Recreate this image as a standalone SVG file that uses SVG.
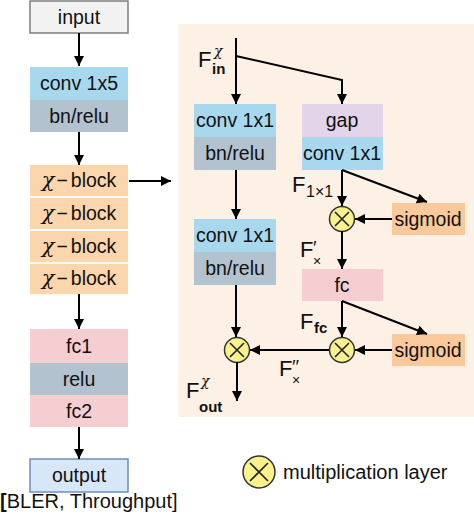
<svg xmlns="http://www.w3.org/2000/svg" width="474" height="526" viewBox="0 0 474 526">
<defs>
<marker id="ah" viewBox="0 0 10 10" refX="10" refY="5" markerWidth="10" markerHeight="11" markerUnits="userSpaceOnUse" orient="auto">
<path d="M0,0 L10,5 L0,10 z" fill="#000"/>
</marker>
<style>
text{font-family:"Liberation Sans",Arial,sans-serif;fill:#111}
.t{font-size:19.5px;text-anchor:middle}
.conv{fill:#a7d8ee}
.bn{fill:#b2c2ce}
.xb{fill:#fbd5ac}
.fc{fill:#f6cdd1}
.gap{fill:#e3d4ea}
.sig{fill:#f9c89b}
.mul{fill:#f9f28c;stroke:#333;stroke-width:1.5}
.mx{stroke:#222;stroke-width:1.6}
.ln{stroke:#000;stroke-width:2;fill:none}
.ar{stroke:#000;stroke-width:2;fill:none;marker-end:url(#ah)}
.F{font-size:22px}
.sub{font-size:15px;font-weight:bold}
.chi{font-family:"DejaVu Serif",serif;font-style:italic;font-size:14px}
.xc{font-family:"DejaVu Serif",serif;font-style:italic;font-size:21px}
.pr{font-size:19px}
</style>
</defs>
<rect x="178" y="24" width="296" height="393" fill="#fdf0e5"/>

<g id="input"><rect x="30" y="1" width="98" height="32" fill="#f2f2f2" stroke="#7f7f7f" stroke-width="1.5"/><text class="t" x="79" y="24">input</text></g>
<g id="conv1x5"><rect class="conv" x="30" y="67" width="98" height="33"/><text class="t" x="79" y="90">conv 1x5</text></g>
<g id="bnrelu0"><rect class="bn" x="30" y="100" width="98" height="32"/><text class="t" x="79" y="123">bn/relu</text></g>
<g id="xblock1"><rect class="xb" x="30" y="165" width="98" height="31"/><text class="t" x="79" y="187"><tspan class="xc">χ</tspan><tspan dx="2">−</tspan><tspan dx="3">block</tspan></text></g>
<g id="xblock2"><rect class="xb" x="30" y="198" width="98" height="31"/><text class="t" x="79" y="220"><tspan class="xc">χ</tspan><tspan dx="2">−</tspan><tspan dx="3">block</tspan></text></g>
<g id="xblock3"><rect class="xb" x="30" y="231" width="98" height="31"/><text class="t" x="79" y="253"><tspan class="xc">χ</tspan><tspan dx="2">−</tspan><tspan dx="3">block</tspan></text></g>
<g id="xblock4"><rect class="xb" x="30" y="264" width="98" height="30"/><text class="t" x="79" y="285"><tspan class="xc">χ</tspan><tspan dx="2">−</tspan><tspan dx="3">block</tspan></text></g>
<g id="fc1"><rect class="fc" x="30" y="329" width="98" height="34"/><text class="t" x="79" y="353">fc1</text></g>
<g id="relu"><rect class="bn" x="30" y="363" width="98" height="32"/><text class="t" x="79" y="386">relu</text></g>
<g id="fc2"><rect class="fc" x="30" y="395" width="98" height="32"/><text class="t" x="79" y="418">fc2</text></g>
<g id="output"><rect x="30" y="459" width="98" height="33" fill="#d8e7f7" stroke="#6d8fbf" stroke-width="1.5"/><text class="t" x="79" y="482">output</text></g>
<text x="0" y="508" font-size="20px"><tspan font-weight="bold">[</tspan>BLER, Throughput]</text>

<g id="convA"><rect class="conv" x="194" y="104" width="82" height="33"/><text class="t" x="235" y="127">conv 1x1</text></g>
<g id="bnA"><rect class="bn" x="194" y="137" width="82" height="33"/><text class="t" x="235" y="160">bn/relu</text></g>
<g id="convB"><rect class="conv" x="194" y="219" width="82" height="33"/><text class="t" x="235" y="242">conv 1x1</text></g>
<g id="bnB"><rect class="bn" x="194" y="252" width="82" height="33"/><text class="t" x="235" y="275">bn/relu</text></g>
<g id="gap"><rect class="gap" x="302" y="104" width="81" height="33"/><text class="t" x="342" y="127">gap</text></g>
<g id="convC"><rect class="conv" x="302" y="137" width="81" height="33"/><text class="t" x="342" y="160">conv 1x1</text></g>
<g id="sig1"><rect class="sig" x="392" y="203" width="73" height="32"/><text class="t" x="428" y="226">sigmoid</text></g>
<g id="fc"><rect class="fc" x="302" y="269" width="81" height="32"/><text class="t" x="342" y="292">fc</text></g>
<g id="sig2"><rect class="sig" x="392" y="334" width="73" height="32"/><text class="t" x="428" y="357">sigmoid</text></g>

<g id="mul1"><circle class="mul" cx="342" cy="219" r="12.5"/><path class="mx" d="M335,212 L349,226 M349,212 L335,226"/></g>
<g id="mul2"><circle class="mul" cx="342" cy="350" r="12.5"/><path class="mx" d="M335,343 L349,357 M349,343 L335,357"/></g>
<g id="mul3"><circle class="mul" cx="237" cy="350" r="12.5"/><path class="mx" d="M230,343 L244,357 M244,343 L230,357"/></g>

<g id="connectors">
<line class="ar" x1="79" y1="33" x2="79" y2="66"/>
<line class="ar" x1="79" y1="132" x2="79" y2="165"/>
<line class="ar" x1="79" y1="294" x2="79" y2="329"/>
<line class="ar" x1="79" y1="427" x2="79" y2="459"/>
<line class="ar" x1="129" y1="181" x2="171" y2="181"/>
<line class="ar" x1="236" y1="38" x2="236" y2="104"/>
<polyline class="ln" points="236,56 342,80 342,95"/>
<line class="ar" x1="342" y1="80" x2="342" y2="104"/>
<line class="ar" x1="236" y1="170" x2="236" y2="219"/>
<line class="ar" x1="236" y1="285" x2="236" y2="337"/>
<line class="ar" x1="342" y1="170" x2="342" y2="206"/>
<line class="ar" x1="342" y1="170" x2="427" y2="202"/>
<line class="ar" x1="392" y1="219" x2="355" y2="219"/>
<line class="ar" x1="342" y1="231" x2="342" y2="269"/>
<line class="ar" x1="342" y1="301" x2="342" y2="337"/>
<line class="ar" x1="342" y1="301" x2="427" y2="334"/>
<line class="ar" x1="392" y1="350" x2="355" y2="350"/>
<line class="ar" x1="329" y1="350" x2="250" y2="350"/>
<line class="ar" x1="237" y1="362" x2="237" y2="401"/>
</g>

<g id="labels">
<text class="F" x="198" y="67">F</text><text class="chi" x="214" y="56">χ</text><text class="sub" x="212" y="74">in</text>
<text class="F" x="186" y="398">F</text><text class="chi" x="201" y="386">χ</text><text class="sub" x="199" y="412">out</text>
<text class="F" x="292" y="192">F</text><text x="306" y="197" font-size="16px">1×1</text>
<text class="F" x="300" y="257">F</text><text class="pr" x="313" y="254">′</text><text x="313" y="266" font-size="14px">×</text>
<text class="F" x="300" y="329">F</text><text class="sub" x="314" y="333">fc</text>
<text class="F" x="279" y="376">F</text><text class="pr" x="292" y="373">′′</text><text x="292" y="385" font-size="14px">×</text>
</g>

<g id="legend"><circle class="mul" cx="259" cy="472" r="16"/><path class="mx" d="M250,463 L268,481 M268,463 L250,481"/><text x="283" y="479" font-size="20px">multiplication layer</text></g>
</svg>
